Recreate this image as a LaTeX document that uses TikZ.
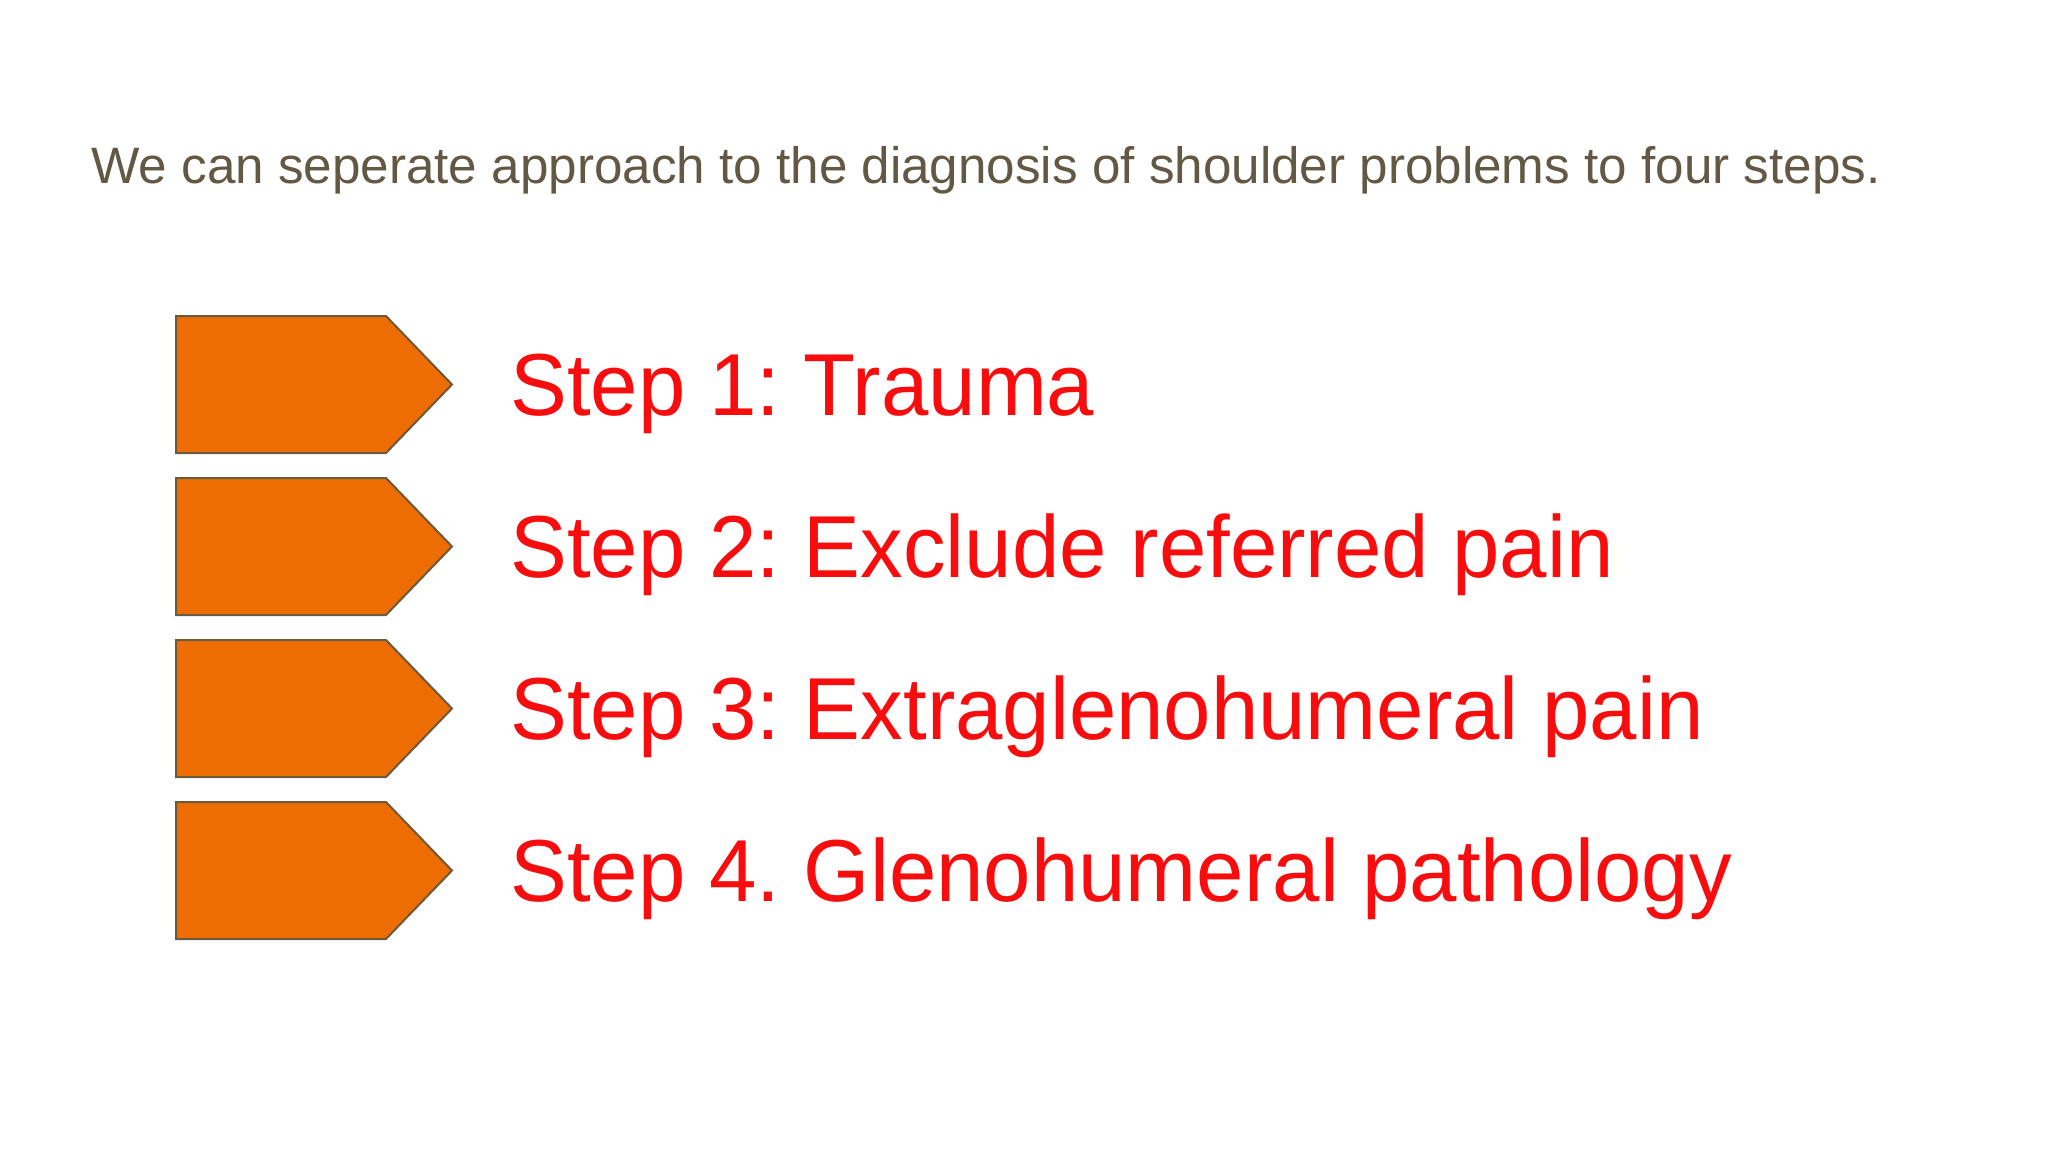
\documentclass[tikz,border=0pt]{standalone}
\usepackage{fontspec}
\setmainfont{Liberation Sans}
\newfontfamily\stepfont{Liberation Sans}[FakeStretch=0.968]
\frenchspacing
\definecolor{titlecol}{HTML}{625843}
\definecolor{stepred}{HTML}{F70D0D}
\definecolor{arrowfill}{HTML}{EE6D02}
\definecolor{arrowline}{HTML}{6A5A3E}
\tikzset{
  px/.style={x={(0.5pt,0)},y={(0,-0.5pt)}},
  chevron/.style={fill=arrowfill,draw=arrowline,line width=1pt,line join=miter},
  steptext/.style={anchor=base west,inner sep=0pt,text=stepred,font=\stepfont\fontsize{44}{50}\selectfont},
  titletext/.style={anchor=base west,inner sep=0pt,text=titlecol,font=\fontsize{25.6}{28}\selectfont}
}
\begin{document}
\begin{tikzpicture}[px]
\useasboundingbox[fill=white] (0,0) rectangle (2048,1152);
\node[titletext] (title) at (91,183) {We can seperate approach to the diagnosis of shoulder problems to four steps.};
\foreach \i/\t/\txt in {1/316/{Step 1: Trauma},2/478/{Step 2: Exclude referred pain},3/640/{Step 3: Extraglenohumeral pain},4/802/{Step 4. Glenohumeral pathology}}{
  \draw[chevron] (176,\t) -- (386,\t) -- (452,\t+68.5) -- (386,\t+137) -- (176,\t+137) -- cycle;
  \node[steptext] (step\i) at (510,\t+99) {\txt};
}
\end{tikzpicture}
\end{document}
